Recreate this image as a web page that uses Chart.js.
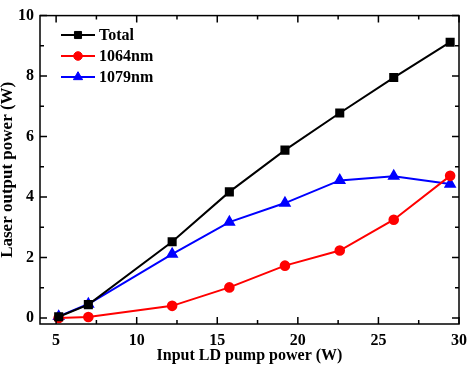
<!DOCTYPE html>
<html>
<head>
<meta charset="utf-8">
<script src="https://cdn.jsdelivr.net/npm/chart.js@4"></script>
<style>
  html, body { margin: 0; padding: 0; background: #fff; }
  #wrap { width: 474px; height: 365px; }
</style>
</head>
<body>
<div id="wrap"><canvas id="c"></canvas></div>
<script>
// pump power (W)
const pumpPower = [5.16, 7.0, 12.2, 15.75, 19.2, 22.6, 25.95, 29.45];
// output power (W)
const totalPower = [0.04, 0.44, 2.52, 4.17, 5.55, 6.78, 7.95, 9.12];
const power1064 = [0.0, 0.03, 0.40, 1.01, 1.73, 2.23, 3.25, 4.70];
const power1079 = [0.05, 0.46, 2.11, 3.17, 3.80, 4.55, 4.69, 4.43];

const xMajor = [5, 10, 15, 20, 25, 30];
const xMinor = [7.5, 12.5, 17.5, 22.5, 27.5];
const yMajor = [0, 2, 4, 6, 8, 10];
const yMinor = [1, 3, 5, 7, 9];

const seriesNames = ['Total', '1064nm', '1079nm'];

function pts(ys) {
  return pumpPower.map((x, i) => ({x: x, y: ys[i]}));
}

const SERIF = '"Liberation Serif", "Times New Roman", serif';

// inward ticks + frame, like the Origin plot
const framePlugin = {
  id: 'frame',
  afterDatasetsDraw(chart) {
    const ctx = chart.ctx;
    const a = chart.chartArea;
    const xs = chart.scales.x, ys = chart.scales.y;
    ctx.save();
    ctx.strokeStyle = '#000';
    ctx.lineWidth = 1.5;
    ctx.strokeRect(a.left, a.top, a.right - a.left, a.bottom - a.top);
    ctx.beginPath();
    function xt(v, len) {
      const p = xs.getPixelForValue(v);
      ctx.moveTo(p, a.bottom); ctx.lineTo(p, a.bottom - len);
      ctx.moveTo(p, a.top); ctx.lineTo(p, a.top + len);
    }
    function yt(v, len) {
      const p = ys.getPixelForValue(v);
      ctx.moveTo(a.left, p); ctx.lineTo(a.left + len, p);
      ctx.moveTo(a.right, p); ctx.lineTo(a.right - len, p);
    }
    xMajor.forEach(v => xt(v, 7));
    xMinor.forEach(v => xt(v, 4));
    yMajor.forEach(v => yt(v, 7));
    yMinor.forEach(v => yt(v, 4));
    ctx.stroke();
    ctx.restore();
  }
};

// legend: line with marker, then label
const legendPlugin = {
  id: 'lineLegend',
  afterDatasetsDraw(chart) {
    const ctx = chart.ctx;
    const x0 = 61, x1 = 95, tx = 99;
    const rows = [35, 56, 77];
    ctx.save();
    chart.data.datasets.forEach((ds, i) => {
      const y = rows[i];
      ctx.strokeStyle = ds.borderColor;
      ctx.lineWidth = 2;
      ctx.beginPath();
      ctx.moveTo(x0, y); ctx.lineTo(x1, y);
      ctx.stroke();
      ctx.fillStyle = ds.backgroundColor;
      ctx.strokeStyle = ds.borderColor;
      ctx.lineWidth = 1;
      Chart.helpers.drawPoint(ctx, {pointStyle: ds.pointStyle, radius: ds.pointRadius, borderWidth: 1}, (x0 + x1) / 2, y);
      ctx.fillStyle = '#000';
      ctx.font = 'bold 16px ' + SERIF;
      ctx.textBaseline = 'middle';
      ctx.textAlign = 'left';
      ctx.fillText(ds.label, tx, y + 1);
    });
    ctx.restore();
  }
};

new Chart(document.getElementById('c'), {
  type: 'line',
  data: {
    datasets: [
      {label: seriesNames[0], data: pts(totalPower), borderColor: '#000', backgroundColor: '#000',
       pointStyle: 'rect', pointRadius: 5, borderWidth: 2},
      {label: seriesNames[1], data: pts(power1064), borderColor: '#ff0000', backgroundColor: '#ff0000',
       pointStyle: 'circle', pointRadius: 4.3, borderWidth: 2},
      {label: seriesNames[2], data: pts(power1079), borderColor: '#0000ff', backgroundColor: '#0000ff',
       pointStyle: 'triangle', pointRadius: 5.3, borderWidth: 2}
    ]
  },
  options: {
    responsive: true,
    maintainAspectRatio: false,
    animation: false,
    layout: {padding: {top: 7, right: 9, left: 0, bottom: 0}},
    plugins: {legend: {display: false}, tooltip: {enabled: false}},
    elements: {line: {tension: 0}},
    scales: {
      x: {
        type: 'linear', min: 4, max: 30,
        afterBuildTicks: s => { s.ticks = xMajor.map(v => ({value: v})); },
        afterFit: s => { s.height = 41; },
        grid: {display: false, drawTicks: false},
        border: {display: false},
        ticks: {color: '#000', font: {family: SERIF, size: 16, weight: 'bold'}, padding: 7, maxRotation: 0},
        title: {display: true, text: 'Input LD pump power (W)', color: '#000',
                font: {family: SERIF, size: 16, weight: 'bold', lineHeight: 1.1}, padding: {top: 0, bottom: 0}}
      },
      y: {
        type: 'linear', min: -0.2, max: 10,
        afterBuildTicks: s => { s.ticks = yMajor.map(v => ({value: v})); },
        afterFit: s => { s.width = 40; },
        grid: {display: false, drawTicks: false},
        border: {display: false},
        ticks: {color: '#000', font: {family: SERIF, size: 16, weight: 'bold'}, padding: 6},
        title: {display: true, text: 'Laser output power (W)', color: '#000',
                font: {family: SERIF, size: 17, weight: 'bold', lineHeight: 0.9}, padding: {top: 0, bottom: 0}}
      }
    }
  },
  plugins: [framePlugin, legendPlugin]
});
</script>
</body>
</html>
